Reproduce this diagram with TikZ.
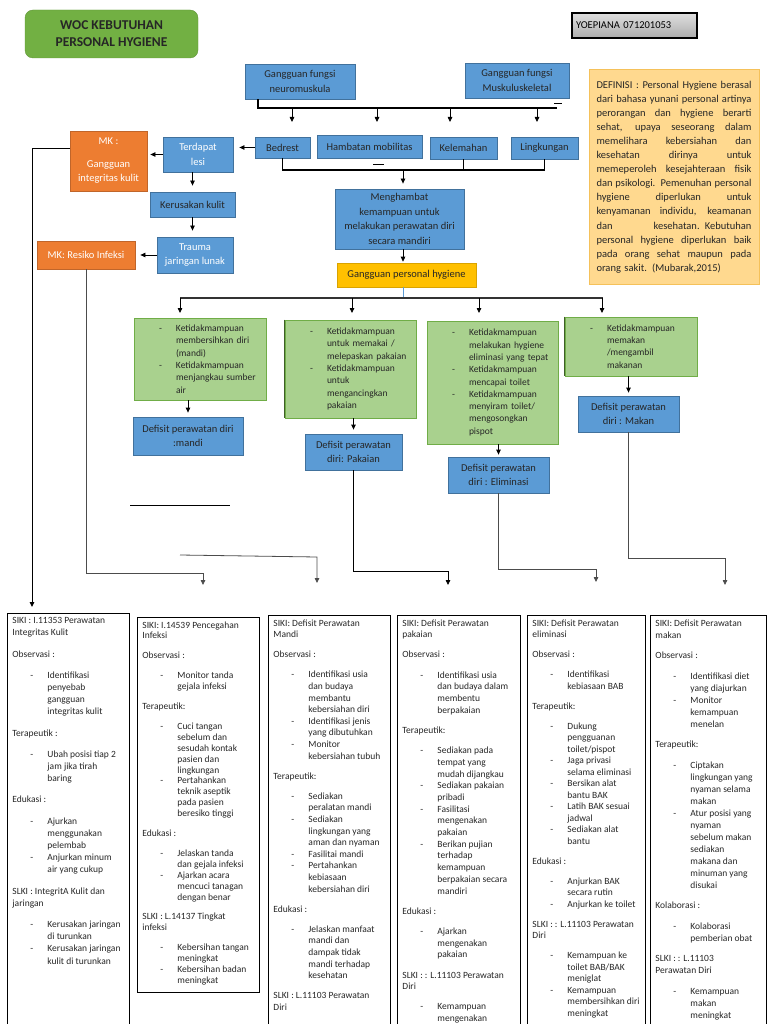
\documentclass[tikz,border=0pt]{standalone}
\usepackage{fontspec}
\setmainfont{Carlito}
\usetikzlibrary{arrows.meta}

\definecolor{boxblue}{HTML}{5B9BD5}
\definecolor{boxblueline}{HTML}{41719C}
\definecolor{mkorange}{HTML}{ED7D31}
\definecolor{mkorangeline}{HTML}{C0652A}
\definecolor{titlegreen}{HTML}{72B043}
\definecolor{ketgreen}{HTML}{A9D18E}
\definecolor{ketgreenline}{HTML}{70AD47}
\definecolor{ghyellow}{HTML}{FFC000}
\definecolor{defpeach}{HTML}{FFD98F}
\definecolor{defline}{HTML}{F5C15A}

% bullet lines in the boxes
\newcommand{\itm}[1]{\hspace*{18pt}\makebox[17pt][l]{-}\mbox{#1}}
\newcommand{\cnt}[1]{\hspace*{35pt}\mbox{#1}}
\newcommand{\gitm}[1]{\hspace*{25pt}\makebox[17pt][l]{-}\mbox{#1}}
\newcommand{\gcnt}[1]{\hspace*{42pt}\mbox{#1}}
\newcommand{\jst}[1]{{\spaceskip=0.23em plus 1fil\makebox[155pt][s]{#1}}}

\tikzset{
  bluebox/.style={draw=boxblueline, fill=boxblue, line width=0.8pt, align=center,
    inner sep=1pt, text=black!85, font=\fontsize{10.5}{14.5}\selectfont},
  mkbox/.style={draw=mkorangeline, fill=mkorange, line width=0.8pt, align=center,
    inner sep=1pt, text=white, font=\fontsize{10.5}{14}\selectfont},
  ketbox/.style={draw=ketgreenline, fill=ketgreen, line width=0.8pt, align=left,
    inner sep=0pt, text=black!85, font=\fontsize{9.5}{12.3}\selectfont},
  sikibox/.style={draw, line width=0.9pt, anchor=north west, inner xsep=5pt,
    inner ysep=4pt, text=black!85, font=\fontsize{9.5}{11.6}\selectfont},
  bus/.style={line width=1.5pt},
  arr/.style={->, line width=0.8pt}
}

\begin{document}
\begin{tikzpicture}[x=1pt, y=-1pt, >={Triangle[length=5pt,width=4.5pt]}]
    \useasboundingbox (0,0) rectangle (768,1024);

    % header
    \node[draw=titlegreen!85!black, fill=titlegreen, rounded corners=8pt, minimum width=173pt,
        minimum height=48pt, align=center, text=black!85,
        font=\fontsize{13.5}{17}\selectfont\bfseries] (judul) at (111.5,34)
        {WOC KEBUTUHAN\\PERSONAL HYGIENE};
    \node[draw, line width=1.3pt, top color=gray!25, bottom color=gray!65, minimum width=125pt,
        minimum height=25pt, text width=117pt, inner xsep=4pt, align=left,
        font=\fontsize{10.5}{13}\selectfont] (nama) at (634.5,25.5) {YOEPIANA 071201053};

    % causes
    \node[bluebox, minimum width=110pt, minimum height=35pt] (neuro) at (300,81.5) {Gangguan fungsi\\neuromuskula};
    \node[bluebox, minimum width=104pt, minimum height=35pt] (musku) at (517,80.5) {Gangguan fungsi\\Muskuluskeletal};
    \node[bluebox, minimum width=55pt, minimum height=21pt] (bedrest) at (282.5,147.5) {Bedrest};
    \node[bluebox, minimum width=105pt, minimum height=23pt] (hambatan) at (369.5,146.5) {Hambatan mobilitas};
    \node[bluebox, minimum width=67pt, minimum height=22pt] (lemah) at (463.5,148) {Kelemahan};
    \node[bluebox, minimum width=67pt, minimum height=22pt] (lingkungan) at (544.5,148) {Lingkungan};

    % skin branch
    \node[bluebox, text=white, minimum width=70pt, minimum height=35pt] (lesi) at (198,154.5) {Terdapat\\lesi};
    \node[mkbox, minimum width=77pt, minimum height=60pt] (mkkulit) at (108.5,161) {MK :\\[9pt]Gangguan\\integritas kulit};
    \node[bluebox, minimum width=85pt, minimum height=25pt] (rusak) at (192.5,204.5) {Kerusakan kulit};
    \node[bluebox, text=white, minimum width=76pt, minimum height=36pt] (trauma) at (195,255) {Trauma\\jaringan lunak};
    \node[mkbox, minimum width=98pt, minimum height=28pt] (mkinfeksi) at (86,255) {MK: Resiko Infeksi};

    \node[bluebox, minimum width=129pt, minimum height=60pt] (hambat) at (399.5,219)
        {Menghambat\\kemampuan untuk\\melakukan perawatan diri\\secara mandiri};
    \node[draw=ghyellow!85!black, fill=ghyellow, line width=0.6pt, minimum width=139pt, minimum height=24pt,
        text=black!85, font=\fontsize{10.5}{13}\selectfont] (gph) at (406.5,275) {Gangguan personal hygiene};

    \node[draw=defline, fill=defpeach, line width=1pt, minimum width=170pt, minimum height=214pt,
        text width=155pt, inner xsep=7.5pt, align=left, text=black!85,
        font=\fontsize{10.5}{14.1}\selectfont] (definisi) at (674,177)
        {\jst{DEFINISI : Personal Hygiene berasal}\\
         \jst{dari bahasa yunani personal artinya}\\
         \jst{perorangan dan hygiene berarti}\\
         \jst{sehat, upaya seseorang dalam}\\
         \jst{memelihara kebersiahan dan}\\
         \jst{kesehatan dirinya untuk}\\
         \jst{memeperoleh kesejahteraan fisik}\\
         \jst{dan psikologi. Pemenuhan personal}\\
         \jst{hygiene diperlukan untuk}\\
         \jst{kenyamanan individu, keamanan}\\
         \jst{dan kesehatan. Kebutuhan}\\
         \jst{personal hygiene diperlukan baik}\\
         \jst{pada orang sehat maupun pada}\\
         orang sakit. (Mubarak,2015)};

    % signs
    \node[ketbox, minimum width=132pt, minimum height=82pt, text width=132pt] (ket1) at (200,359)
        {\gitm{Ketidakmampuan}\\ \gcnt{membersihkan diri}\\ \gcnt{(mandi)}\\
         \gitm{Ketidakmampuan}\\ \gcnt{menjangkau sumber}\\ \gcnt{air}};
    \node[ketbox, minimum width=131pt, minimum height=98pt, text width=131pt] (ket2) at (350.5,369)
        {\gitm{Ketidakmampuan}\\ \gcnt{untuk memakai /}\\ \gcnt{melepaskan pakaian}\\
         \gitm{Ketidakmampuan}\\ \gcnt{untuk}\\ \gcnt{mengancingkan}\\ \gcnt{pakaian}};
    \node[ketbox, minimum width=131pt, minimum height=123pt, text width=131pt] (ket3) at (492.5,382.5)
        {\gitm{Ketidakmampuan}\\ \gcnt{melakukan hygiene}\\ \gcnt{eliminasi yang tepat}\\
         \gitm{Ketidakmampuan}\\ \gcnt{mencapai toilet}\\
         \gitm{Ketidakmampuan}\\ \gcnt{menyiram toilet/}\\ \gcnt{mengosongkan}\\ \gcnt{pispot}};
    \node[ketbox, minimum width=132pt, minimum height=59pt, text width=132pt] (ket4) at (631,346.5)
        {\gitm{Ketidakmampuan}\\ \gcnt{memakan}\\ \gcnt{/mengambil}\\ \gcnt{makanan}};
    \draw[line width=1.6pt, ketgreenline!55!black] (ket2.north west) -- (ket2.south west);
    \draw[line width=1.6pt, ketgreenline!55!black] (ket4.north west) -- (ket4.south west);

    \node[bluebox, minimum width=110pt, minimum height=38pt] (dmandi) at (188,436) {Defisit perawatan diri\\:mandi};
    \node[bluebox, minimum width=97pt, minimum height=36pt] (dpakai) at (353.5,452) {Defisit perawatan\\diri: Pakaian};
    \node[bluebox, minimum width=101pt, minimum height=36pt] (delim) at (498.5,475) {Defisit perawatan\\diri : Eliminasi};
    \node[bluebox, minimum width=101pt, minimum height=36pt] (dmakan) at (628.5,414) {Defisit perawatan\\diri : Makan};

    % connectors, top part
    \coordinate (busa) at (557,108);
    \coordinate (busb) at (403,170);
    \coordinate (busc) at (403,298);
    \draw[bus] ([xshift=-42pt]neuro.south) |- (busa);
    \draw (554,103) -- (562,103);
    \foreach \x in {292,377,450,537}
        \draw[arr] (\x,108) -- (\x,122);
    \draw[line width=1.2pt] (bedrest.south) |- (busb) -| (lingkungan.south);
    \draw[line width=1.2pt] (lemah.south) -- (lemah.south |- busb);
    \draw (373,164) -- (384,164);
    \draw[arr, shorten >=5pt] (busb) -- (busb |- hambat.north);
    \draw[arr, shorten >=1pt] (hambat.south -| busb) -- (gph.north -| busb);

    \draw[arr, shorten >=6pt] (bedrest.west) -- (bedrest.west -| lesi.east);
    \draw[arr, shorten >=3pt] (lesi.west) -- (lesi.west -| mkkulit.east);
    \draw[arr, shorten >=6pt] (lesi.south -| rusak.north) -- (rusak.north);
    \draw[arr, shorten >=6pt] (rusak.south) -- (rusak.south |- trauma.north);
    \draw[arr, shorten >=5pt] (trauma.west) -- (trauma.west -| mkinfeksi.east);

    \draw[boxblue, line width=1pt] (gph.south -| busc) -- (busc);
    \draw[bus, black!80] (180,298) -- (603,298);
    \foreach \x in {180,352,479,602}
        \draw[arr] (\x,298) -- (\x,313);

    \draw[arr, shorten >=4pt] (dmandi.north |- ket1.south) -- (dmandi.north);
    \draw[arr, shorten >=4pt] (dpakai.north |- ket2.south) -- (dpakai.north);
    \draw[arr, shorten >=2pt] (delim.north |- ket3.south) -- (delim.north);
    \draw[arr, shorten >=3pt] (dmakan.north |- ket4.south) -- (dmakan.north);

    % connectors to the intervention boxes
    \draw[arr, line width=1pt] ([yshift=12pt]mkkulit.west) -| (32,607);
    \draw[arr, black!70] (mkinfeksi.south) |- (203,573) -- (203,585);
    \draw (130,505) -- (230,505);
    \draw[arr, black!70] (180,555) -- (317,557) -- (317,583);
    \draw[arr] (dpakai.south) |- (448,571) -- (448,585);
    \draw[arr, black!70] (delim.south) |- (596,569) -- (596,582);
    \draw[arr, black!70] (dmakan.south) |- (725,558) -- (725,585);

    % SIKI / SLKI
    \node[sikibox, font=\fontsize{9.5}{12.2}\selectfont] (siki1) at (7,613)
        {\begin{minipage}[t][430pt][t]{112pt}
        SIKI : I.11353 Perawatan\\ Integritas Kulit\\[9pt]
        Observasi :\\[9pt]
        \itm{Identifikasi}\\ \cnt{penyebab}\\ \cnt{gangguan}\\ \cnt{integritas kulit}\\[9pt]
        Terapeutik :\\[9pt]
        \itm{Ubah posisi tiap 2}\\ \cnt{jam jika tirah}\\ \cnt{baring}\\[9pt]
        Edukasi :\\[9pt]
        \itm{Ajurkan}\\ \cnt{menggunakan}\\ \cnt{pelembab}\\
        \itm{Anjurkan minum}\\ \cnt{air yang cukup}\\[9pt]
        SLKI : IntegritA Kulit dan\\ jaringan\\[9pt]
        \itm{Kerusakan jaringan}\\ \cnt{di turunkan}\\
        \itm{Kerusakan jaringan}\\ \cnt{kulit di turunkan}
        \end{minipage}};
    \node[sikibox, font=\fontsize{9.5}{10.9}\selectfont] (siki2) at (137,617)
        {\begin{minipage}[t][367pt][t]{112pt}
        SIKI: I.14539 Pencegahan\\ Infeksi\\[9pt]
        Observasi :\\[9pt]
        \itm{Monitor tanda}\\ \cnt{gejala infeksi}\\[9pt]
        Terapeutik:\\[9pt]
        \itm{Cuci tangan}\\ \cnt{sebelum dan}\\ \cnt{sesudah kontak}\\ \cnt{pasien dan}\\ \cnt{lingkungan}\\
        \itm{Pertahankan}\\ \cnt{teknik aseptik}\\ \cnt{pada pasien}\\ \cnt{beresiko tinggi}\\[9pt]
        Edukasi :\\[9pt]
        \itm{Jelaskan tanda}\\ \cnt{dan gejala infeksi}\\
        \itm{Ajarkan acara}\\ \cnt{mencuci tanagan}\\ \cnt{dengan benar}\\[9pt]
        SLKI : L.14137 Tingkat\\ infeksi\\[9pt]
        \itm{Kebersihan tangan}\\ \cnt{meningkat}\\
        \itm{Kebersihan badan}\\ \cnt{meningkat}
        \end{minipage}};
    \node[sikibox] (siki3) at (268,615)
        {\begin{minipage}[t][430pt][t]{112pt}
        SIKI: Defisit Perawatan\\ Mandi\\[8.5pt]
        Observasi :\\[8.5pt]
        \itm{Identifikasi usia}\\ \cnt{dan budaya}\\ \cnt{membantu}\\ \cnt{kebersiahan diri}\\
        \itm{Identifikasi jenis}\\ \cnt{yang dibutuhkan}\\
        \itm{Monitor}\\ \cnt{kebersiahan tubuh}\\[8.5pt]
        Terapeutik:\\[8.5pt]
        \itm{Sediakan}\\ \cnt{peralatan mandi}\\
        \itm{Sediakan}\\ \cnt{lingkungan yang}\\ \cnt{aman dan nyaman}\\
        \itm{Fasilitai mandi}\\
        \itm{Pertahankan}\\ \cnt{kebiasaan}\\ \cnt{kebersiahan diri}\\[8.5pt]
        Edukasi :\\[8.5pt]
        \itm{Jelaskan manfaat}\\ \cnt{mandi dan}\\ \cnt{dampak tidak}\\ \cnt{mandi terhadap}\\ \cnt{kesehatan}\\[8.5pt]
        SLKI : L.11103 Perawatan\\ Diri
        \end{minipage}};
    \node[sikibox, font=\fontsize{9.5}{11.7}\selectfont] (siki4) at (397,615)
        {\begin{minipage}[t][430pt][t]{113pt}
        SIKI: Defisit Perawatan\\ pakaian\\[8.5pt]
        Observasi :\\[8.5pt]
        \itm{Identifikasi usia}\\ \cnt{dan budaya dalam}\\ \cnt{membentu}\\ \cnt{berpakaian}\\[8.5pt]
        Terapeutik:\\[8.5pt]
        \itm{Sediakan pada}\\ \cnt{tempat yang}\\ \cnt{mudah dijangkau}\\
        \itm{Sediakan pakaian}\\ \cnt{pribadi}\\
        \itm{Fasilitasi}\\ \cnt{mengenakan}\\ \cnt{pakaian}\\
        \itm{Berikan pujian}\\ \cnt{terhadap}\\ \cnt{kemampuan}\\ \cnt{berpakaian secara}\\ \cnt{mandiri}\\[8.5pt]
        Edukasi :\\[8.5pt]
        \itm{Ajarkan}\\ \cnt{mengenakan}\\ \cnt{pakaian}\\[8.5pt]
        SLKI : : L.11103 Perawatan\\ Diri\\[8.5pt]
        \itm{Kemampuan}\\ \cnt{mengenakan}
        \end{minipage}};
    \node[sikibox, font=\fontsize{9.5}{11.5}\selectfont] (siki5) at (527,615)
        {\begin{minipage}[t][430pt][t]{108pt}
        SIKI: Defisit Perawatan\\ eliminasi\\[8.5pt]
        Observasi :\\[8.5pt]
        \itm{Identifikasi}\\ \cnt{kebiasaan BAB}\\[8.5pt]
        Terapeutik:\\[8.5pt]
        \itm{Dukung}\\ \cnt{pengguanan}\\ \cnt{toilet/pispot}\\
        \itm{Jaga privasi}\\ \cnt{selama eliminasi}\\
        \itm{Bersikan alat}\\ \cnt{bantu BAK}\\
        \itm{Latih BAK sesuai}\\ \cnt{jadwal}\\
        \itm{Sediakan alat}\\ \cnt{bantu}\\[8.5pt]
        Edukasi :\\[8.5pt]
        \itm{Anjurkan BAK}\\ \cnt{secara rutin}\\
        \itm{Anjurkan ke toilet}\\[8.5pt]
        SLKI : : L.11103 Perawatan\\ Diri\\[8.5pt]
        \itm{Kemampuan ke}\\ \cnt{toilet BAB/BAK}\\ \cnt{meniglat}\\
        \itm{Kemampuan}\\ \cnt{membersihkan diri}\\ \cnt{meningkat}
        \end{minipage}};
    \node[sikibox, font=\fontsize{9.5}{12}\selectfont] (siki6) at (650,615)
        {\begin{minipage}[t][430pt][t]{106pt}
        SIKI: Defisit Perawatan\\ makan\\[8.5pt]
        Observasi :\\[8.5pt]
        \itm{Identifikasi diet}\\ \cnt{yang diajurkan}\\
        \itm{Monitor}\\ \cnt{kemampuan}\\ \cnt{menelan}\\[8.5pt]
        Terapeutik:\\[8.5pt]
        \itm{Ciptakan}\\ \cnt{lingkungan yang}\\ \cnt{nyaman selama}\\ \cnt{makan}\\
        \itm{Atur posisi yang}\\ \cnt{nyaman}\\ \cnt{sebelum makan}\\ \cnt{sediakan}\\
        \cnt{makana dan}\\ \cnt{minuman yang}\\ \cnt{disukai}\\[8.5pt]
        Kolaborasi :\\[8.5pt]
        \itm{Kolaborasi}\\ \cnt{pemberian obat}\\[8.5pt]
        SLKI : : L.11103\\ Perawatan Diri\\[8.5pt]
        \itm{Kemampuan}\\ \cnt{makan}\\ \cnt{meningkat}
        \end{minipage}};
\end{tikzpicture}
\end{document}
